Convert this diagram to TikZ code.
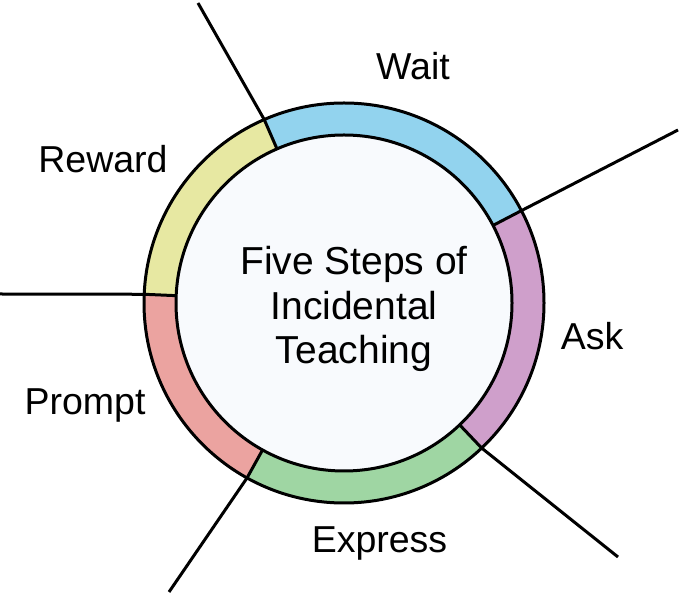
\documentclass[tikz,border=0pt]{standalone}
\usepackage{fontspec}
\setmainfont{Liberation Sans}
\definecolor{cwait}{HTML}{92D3EE}
\definecolor{creward}{HTML}{E7E8A2}
\definecolor{cprompt}{HTML}{EBA3A0}
\definecolor{cexpress}{HTML}{9FD6A3}
\definecolor{cask}{HTML}{CF9FCB}
\definecolor{cinner}{HTML}{F8FAFD}
\tikzset{
  ringline/.style={line width=3pt, line join=round},
  lbl/.style={font=\fontsize{37.5}{45}\selectfont, inner sep=0pt, anchor=base},
}
\newcommand{\ringseg}[3]{%
  \fill[#3] (#1:200pt) arc[start angle=#1, end angle=#2, radius=200pt]
    -- (#2:168pt) arc[start angle=#2, end angle=#1, radius=168pt] -- cycle;}
\begin{document}
\begin{tikzpicture}[x=1pt,y=1pt]
\useasboundingbox (0,0) rectangle (685,594);
\begin{scope}[shift={(344,291)}]
  \ringseg{27.5}{113.5}{cwait}
  \ringseg{113.5}{177.5}{creward}
  \ringseg{177.5}{241}{cprompt}
  \ringseg{241}{313.5}{cexpress}
  \ringseg{-46.5}{27.5}{cask}
  \draw[ringline] (0,0) circle[radius=200pt];
  \draw[ringline, fill=cinner] (0,0) circle[radius=168pt];
  \coordinate (oA) at (113.5:200pt); \coordinate (iA) at (113.5:168pt);
  \coordinate (oB) at (27.5:200pt);  \coordinate (iB) at (27.5:168pt);
  \coordinate (oC) at (177.5:200pt); \coordinate (iC) at (177.5:168pt);
  \coordinate (oD) at (-46.5:200pt); \coordinate (iD) at (-46.5:168pt);
  \coordinate (oE) at (241:200pt);   \coordinate (iE) at (241:168pt);
\end{scope}
\coordinate (eA) at (198,591);
\coordinate (eB) at (678,464);
\coordinate (eC) at (0,300);
\coordinate (eD) at (618,37);
\coordinate (eE) at (169,2);
\draw[ringline] (iA) -- (oA) -- (eA);
\draw[ringline] (iB) -- (oB) -- (eB);
\draw[ringline] (iC) -- (oC) -- (eC);
\draw[ringline] (iD) -- (oD) -- (eD);
\draw[ringline] (iE) -- (oE) -- (eE);
\node[lbl] (wait) at (413,514) {Wait};
\node[lbl] (ask) at (592,244) {Ask};
\node[lbl] (express) at (379.5,41) {Express};
\node[lbl] (prompt) at (85,179) {Prompt};
\node[lbl] (reward) at (103,421) {Reward};
\node[font=\fontsize{39}{44.5}\selectfont, inner sep=0pt, align=center] (title) at (354,285) {Five Steps of\\Incidental\\Teaching};
\end{tikzpicture}
\end{document}
